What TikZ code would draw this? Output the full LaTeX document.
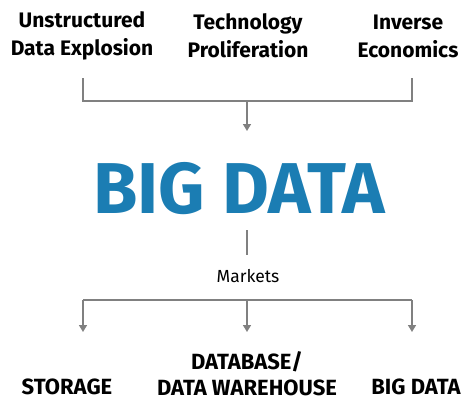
\documentclass[tikz,border=0pt]{standalone}
\usepackage{fontspec}
\setmainfont{Fira Sans}
\usetikzlibrary{arrows.meta, positioning}
\definecolor{bigblue}{HTML}{1B7DB3}
\definecolor{linegray}{HTML}{808080}

\begin{document}
\begin{tikzpicture}[x=1pt, y=-1pt,
        driver/.style={align=center, font=\fontsize{21}{28}\selectfont\bfseries, inner sep=0pt},
        market/.style={align=center, font=\fontsize{22}{26}\selectfont\bfseries, inner sep=0pt},
        title/.style={font=\fontsize{72}{72}\selectfont\bfseries, text=bigblue, inner sep=0pt},
        link/.style={draw=linegray, line width=1.6pt},
        arrow/.style={link, -{Triangle[length=7pt, width=8pt]}}
    ]
        \useasboundingbox (0,0) rectangle (474,415);

        % Nodes
        \node [driver] (explosion) at (82,36) {Unstructured\\Data Explosion};
        \node [driver] (proliferation) at (248,36) {Technology\\Proliferation};
        \node [driver] (economics) at (408,36) {Inverse\\Economics};

        \node [title] (bigdata) at (239,189) {BIG DATA};

        \node [font=\fontsize{17.5}{20}\selectfont, inner sep=0pt] (markets) at (248,276) {Markets};

        \node [market] (storage) at (67,387) {STORAGE};
        \node [market] (warehouse) at (247,374) {DATABASE/\\DATA WAREHOUSE};
        \node [market] (bigmarket) at (416,387) {BIG DATA};

        % Joints
        \coordinate (inLeft) at (83,78);
        \coordinate (inRight) at (412,78);
        \coordinate (inJoin) at (247,101);
        \coordinate (outTop) at (247,230);
        \coordinate (outJoin) at (247,300);

        % Arrows
        \draw [link] (inLeft) |- (inJoin) -| (inRight);
        \draw [arrow] (inJoin) -- ++(0,30);
        \draw [link] (outTop) -- ++(0,25);
        \draw [link] (outJoin -| inLeft) -- (outJoin -| inRight);
        \draw [arrow] (outJoin -| inLeft) -- ++(0,32);
        \draw [arrow] (outJoin) -- ++(0,32);
        \draw [arrow] (outJoin -| inRight) -- ++(0,32);
    \end{tikzpicture}
\end{document}
